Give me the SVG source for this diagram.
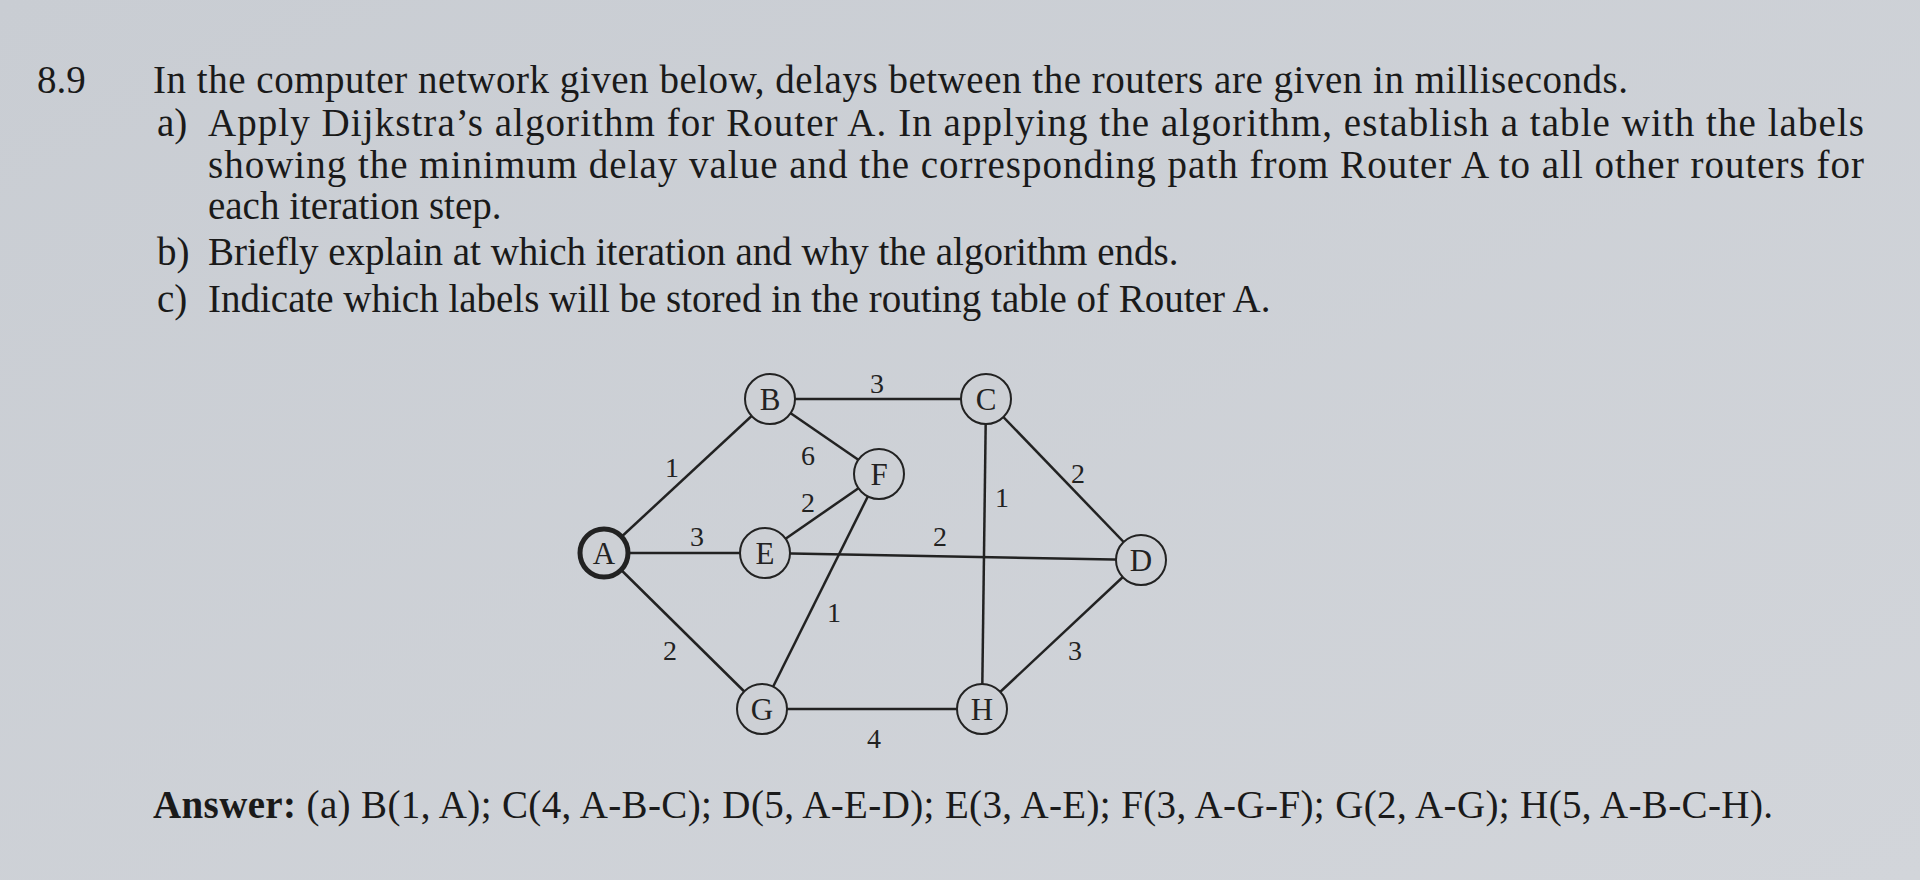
<svg xmlns="http://www.w3.org/2000/svg" width="1920" height="880" viewBox="0 0 1920 880">
<defs><linearGradient id="bg" x1="0" y1="0" x2="1" y2="1"><stop offset="0" stop-color="#c9cdd3"/><stop offset="1" stop-color="#d2d5da"/></linearGradient></defs>
<style>
.t{font-family:"Liberation Serif",serif;font-size:39px;fill:#1a1a1a}
.n circle{fill:#cdd0d5;stroke:#222;stroke-width:2}
.n text{font-family:"Liberation Serif",serif;font-size:31px;fill:#222;text-anchor:middle}
.l{font-family:"Liberation Serif",serif;font-size:28px;fill:#222;text-anchor:middle}
#edges line{stroke:#222;stroke-width:2.5}
</style>
<rect width="1920" height="880" fill="url(#bg)"/>
<text class="t" x="37" y="93">8.9</text>
<text class="t" x="153" y="93" textLength="1475" lengthAdjust="spacing">In the computer network given below, delays between the routers are given in milliseconds.</text>
<text class="t" x="157" y="136">a)</text>
<text class="t" x="208" y="136" textLength="1656" lengthAdjust="spacing">Apply Dijkstra’s algorithm for Router A. In applying the algorithm, establish a table with the labels</text>
<text class="t" x="208" y="178" textLength="1656" lengthAdjust="spacing">showing the minimum delay value and the corresponding path from Router A to all other routers for</text>
<text class="t" x="208" y="219">each iteration step.</text>
<text class="t" x="157" y="265">b)</text>
<text class="t" x="208" y="265">Briefly explain at which iteration and why the algorithm ends.</text>
<text class="t" x="157" y="312">c)</text>
<text class="t" x="208" y="312">Indicate which labels will be stored in the routing table of Router A.</text>
<g id="edges">
<line x1="604" y1="553" x2="770" y2="399"/>
<line x1="604" y1="553" x2="765" y2="553"/>
<line x1="604" y1="553" x2="762" y2="709"/>
<line x1="770" y1="399" x2="986" y2="399"/>
<line x1="770" y1="399" x2="879" y2="474"/>
<line x1="765" y1="553" x2="879" y2="474"/>
<line x1="879" y1="474" x2="762" y2="709"/>
<line x1="765" y1="553" x2="1141" y2="560"/>
<line x1="986" y1="399" x2="982" y2="709"/>
<line x1="986" y1="399" x2="1141" y2="560"/>
<line x1="1141" y1="560" x2="982" y2="709"/>
<line x1="762" y1="709" x2="982" y2="709"/>
</g>
<g id="labels">
<text class="l" x="877" y="393">3</text>
<text class="l" x="672" y="477">1</text>
<text class="l" x="808" y="465">6</text>
<text class="l" x="808" y="512">2</text>
<text class="l" x="1002" y="507">1</text>
<text class="l" x="1078" y="483">2</text>
<text class="l" x="697" y="546">3</text>
<text class="l" x="940" y="546">2</text>
<text class="l" x="834" y="622">1</text>
<text class="l" x="670" y="660">2</text>
<text class="l" x="1075" y="660">3</text>
<text class="l" x="874" y="748">4</text>
</g>
<g id="A" class="n"><circle cx="604" cy="553" r="24" style="stroke-width:5"/><text x="604" y="564">A</text></g>
<g id="B" class="n"><circle cx="770" cy="399" r="25"/><text x="770" y="410">B</text></g>
<g id="C" class="n"><circle cx="986" cy="399" r="25"/><text x="986" y="410">C</text></g>
<g id="F" class="n"><circle cx="879" cy="474" r="25"/><text x="879" y="485">F</text></g>
<g id="E" class="n"><circle cx="765" cy="553" r="25"/><text x="765" y="564">E</text></g>
<g id="D" class="n"><circle cx="1141" cy="560" r="25"/><text x="1141" y="571">D</text></g>
<g id="G" class="n"><circle cx="762" cy="709" r="25"/><text x="762" y="720">G</text></g>
<g id="H" class="n"><circle cx="982" cy="709" r="25"/><text x="982" y="720">H</text></g>
<text class="t" x="153" y="818" textLength="1620" lengthAdjust="spacing"><tspan font-weight="bold">Answer:</tspan> (a) B(1, A); C(4, A-B-C); D(5, A-E-D); E(3, A-E); F(3, A-G-F); G(2, A-G); H(5, A-B-C-H).</text>
</svg>
